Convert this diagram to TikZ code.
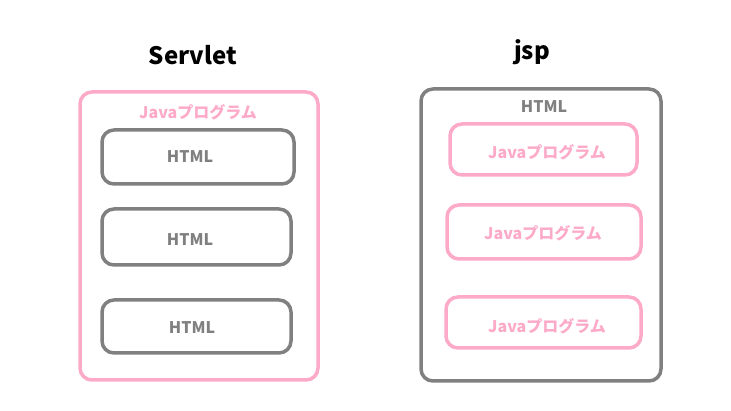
\documentclass[tikz,border=0pt]{standalone}
\usepackage{fontspec}
\setmainfont{Noto Sans CJK JP}
\begin{document}
\begin{tikzpicture}[x=1pt,y=-1pt,
  box/.style={draw, line width=3.5pt, rounded corners=12pt, inner sep=0pt},
  pbox/.style={box, draw={rgb,255:red,252;green,170;blue,200}},
  gbox/.style={box, draw={rgb,255:red,128;green,128;blue,128}},
  title/.style={font=\bfseries\fontsize{24}{28}\selectfont, text=black},
  plab/.style={font=\bfseries\fontsize{16}{19}\selectfont, text={rgb,255:red,252;green,170;blue,200}},
  glab/.style={font=\bfseries\fontsize{16}{19}\selectfont, text={rgb,255:red,128;green,128;blue,128}}]
\useasboundingbox (0,0) rectangle (731,411);
\node[title] (t1) at (193,55) {Servlet};
\node[title] (t2) at (532,52) {jsp};
\node[pbox, minimum width=238pt, minimum height=288pt] (L) at (199,236) {};
\node[plab] (Ll) at (198,112) {Javaプログラム};
\node[gbox, minimum width=192pt, minimum height=54pt] (h1) at (198,157) {};
\node[gbox, minimum width=189pt, minimum height=56pt] (h2) at (196.5,237) {};
\node[gbox, minimum width=189pt, minimum height=53pt] (h3) at (196.5,326.5) {};
\node[glab] at (190,157) {HTML};
\node[glab] at (190,240) {HTML};
\node[glab] at (192,328) {HTML};
\node[gbox, minimum width=240pt, minimum height=292pt] (R) at (541,235) {};
\node[glab] (Rl) at (544,107) {HTML};
\node[pbox, minimum width=187pt, minimum height=51pt] (j1) at (543.5,149.5) {};
\node[pbox, minimum width=194pt, minimum height=54pt] (j2) at (544,232) {};
\node[pbox, minimum width=195pt, minimum height=51pt] (j3) at (543.5,322.5) {};
\node[plab] at (547,152) {Javaプログラム};
\node[plab] at (543,233) {Javaプログラム};
\node[plab] at (547,326) {Javaプログラム};
\end{tikzpicture}
\end{document}
